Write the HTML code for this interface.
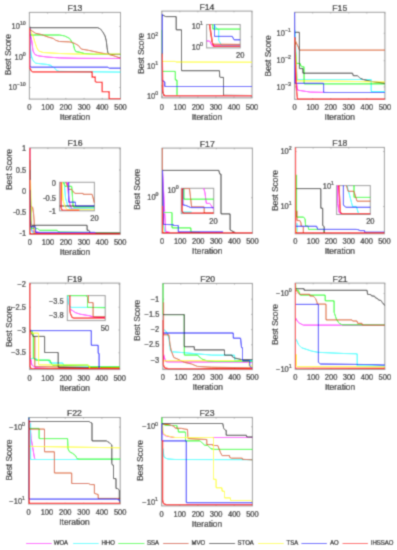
<!DOCTYPE html>
<html><head><meta charset="utf-8"><title>Convergence curves F13-F23</title>
<style>
html,body{margin:0;padding:0;background:#fff;width:397px;height:550px;overflow:hidden;}
body{font-family:"Liberation Sans", sans-serif;}
svg{display:block;}
</style></head><body>
<svg xmlns="http://www.w3.org/2000/svg" width="397" height="550" viewBox="0 0 397 550" font-family='"Liberation Sans", sans-serif' shape-rendering="geometricPrecision"><defs><filter id="bl" x="0" y="0" width="397" height="550" filterUnits="userSpaceOnUse" primitiveUnits="userSpaceOnUse"><feConvolveMatrix order="3" kernelMatrix="0.0361 0.1178 0.0361 0.1178 0.3846 0.1178 0.0361 0.1178 0.0361" edgeMode="duplicate"/></filter><clipPath id="c1"><rect x="28.8" y="11.8" width="92.3" height="87.9"/></clipPath><clipPath id="c2"><rect x="161.2" y="10.5" width="91.4" height="88"/></clipPath><clipPath id="c3"><rect x="206" y="23.9" width="34.8" height="24.6"/></clipPath><clipPath id="c4"><rect x="294" y="11.7" width="91.5" height="88.3"/></clipPath><clipPath id="c5"><rect x="29.2" y="147.3" width="91.6" height="87.6"/></clipPath><clipPath id="c6"><rect x="59" y="181.7" width="36" height="29.7"/></clipPath><clipPath id="c7"><rect x="161.5" y="147.5" width="91.5" height="86.4"/></clipPath><clipPath id="c8"><rect x="180.7" y="187.7" width="33.6" height="26.5"/></clipPath><clipPath id="c9"><rect x="294.7" y="146.8" width="90.3" height="87.6"/></clipPath><clipPath id="c10"><rect x="336" y="185" width="34.9" height="30.1"/></clipPath><clipPath id="c11"><rect x="29" y="282.5" width="91.3" height="87.7"/></clipPath><clipPath id="c12"><rect x="66.7" y="295" width="39.1" height="26.2"/></clipPath><clipPath id="c13"><rect x="162.3" y="282.8" width="90.7" height="87.4"/></clipPath><clipPath id="c14"><rect x="294.7" y="282.5" width="90.7" height="87.6"/></clipPath><clipPath id="c15"><rect x="28" y="416.9" width="92.8" height="87.7"/></clipPath><clipPath id="c16"><rect x="161" y="416.8" width="92" height="89.7"/></clipPath></defs><g filter="url(#bl)"><rect width="397" height="550" fill="#fff"/><path d="M29.4 99.1L29.4 97.9 M29.4 12.4L29.4 13.6 M47.62 99.1L47.62 97.9 M47.62 12.4L47.62 13.6 M65.84 99.1L65.84 97.9 M65.84 12.4L65.84 13.6 M84.06 99.1L84.06 97.9 M84.06 12.4L84.06 13.6 M102.28 99.1L102.28 97.9 M102.28 12.4L102.28 13.6 M120.5 99.1L120.5 97.9 M120.5 12.4L120.5 13.6 M29.4 26.4L30.6 26.4 M120.5 26.4L119.3 26.4 M29.4 57.5L30.6 57.5 M120.5 57.5L119.3 57.5 M29.4 87.5L30.6 87.5 M120.5 87.5L119.3 87.5" stroke="#959595" stroke-width="0.8" fill="none"/>
<rect x="29.4" y="12.4" width="91.1" height="86.7" stroke="#959595" stroke-width="1" fill="none"/>
<g clip-path="url(#c1)">
<polyline points="29.9,32 31.8,40.9 33,51 34.9,54.5 38.1,55.8 46.9,57 59.5,57.9 78,58.3 120.5,58.5" stroke="#ff00ff" stroke-width="1" fill="none"/>
<polyline points="29.5,40 31.1,55 33,60.7 35.6,63.2 40.6,63.8 46.9,64.4 50.7,65.3 52.6,66.6 54.4,68.2 57,70.7 59.5,71.4 92,71.8 120.5,72.1" stroke="#00ffff" stroke-width="1" fill="none"/>
<polyline points="29.9,34.6 30.5,35 59.5,35 64.5,35.9 69.6,38.4 72.1,42.2 73.3,44 74.5,49.1 75.8,51.6 79.6,52.2 84.6,53.5 90.9,54.1 95,54.4 120.5,54.4" stroke="#00ff00" stroke-width="1" fill="none"/>
<polyline points="29.5,28.3 31.8,30.8 35.6,33.3 40.6,34.3 43.1,35.2 48.2,37.1 53.2,38.4 55.7,40.3 59.5,41.5 69.6,41.9 73.3,42.8 75.8,44 78.9,45.9 80.2,47.8 81.4,49.1 88.4,50.3 97.2,52.2 107.3,54.1 113.6,55.8 120.5,58" stroke="#d95319" stroke-width="1" fill="none"/>
<polyline points="29.5,27.7 97.8,27.7 100.3,28.9 102.9,32.1 105,35.9 106.3,40.9 107,47.2 107.9,52.9 109.2,54.1 111,54.4 120.5,54.4" stroke="#262626" stroke-width="1" fill="none"/>
<polyline points="29.9,29.6 33,35.9 34.9,42.2 36.8,47.8 38.7,51 43.1,52.5 59.5,53.5 78,54.1 120.5,54.1" stroke="#ffff00" stroke-width="1" fill="none"/>
<polyline points="29.9,28 29.9,66.3 31.1,67.2 107.9,67.2 109.2,68.2 120.5,68.2" stroke="#0000ff" stroke-width="1" fill="none"/>
<polyline points="29.5,28 29.5,67.6 31.8,71.5 33,71.8 92.2,71.8 92.2,77 95.3,77 95.3,81.4 96.6,82.4 102.2,82.4 102.2,91.5 109.2,91.5 109.2,98.6 120.5,98.6" stroke="#ff0000" stroke-width="1.25" fill="none"/>
</g>
<text transform="translate(29.4 109.6) scale(1 1.12)" font-size="7.5" text-anchor="middle" fill="#151515" stroke="#151515" stroke-width="0.2">0</text>
<text transform="translate(47.62 109.6) scale(1 1.12)" font-size="7.5" text-anchor="middle" fill="#151515" stroke="#151515" stroke-width="0.2">100</text>
<text transform="translate(65.84 109.6) scale(1 1.12)" font-size="7.5" text-anchor="middle" fill="#151515" stroke="#151515" stroke-width="0.2">200</text>
<text transform="translate(84.06 109.6) scale(1 1.12)" font-size="7.5" text-anchor="middle" fill="#151515" stroke="#151515" stroke-width="0.2">300</text>
<text transform="translate(102.28 109.6) scale(1 1.12)" font-size="7.5" text-anchor="middle" fill="#151515" stroke="#151515" stroke-width="0.2">400</text>
<text transform="translate(120.5 109.6) scale(1 1.12)" font-size="7.5" text-anchor="middle" fill="#151515" stroke="#151515" stroke-width="0.2">500</text>
<text transform="translate(74.95 119.6) scale(1 1.1)" font-size="8.4" text-anchor="middle" fill="#151515" stroke="#151515" stroke-width="0.2">Iteration</text>
<text transform="translate(74.95 10.8) scale(1 1.1)" font-size="8.7" text-anchor="middle" fill="#000" stroke="#000" stroke-width="0.2">F13</text>
<text transform="translate(25.8 29) scale(1 1.12)" font-size="7.5" text-anchor="end" fill="#151515" stroke="#151515" stroke-width="0.2">10<tspan dy="-3.4" font-size="5.3">10</tspan></text>
<text transform="translate(25.8 60.1) scale(1 1.12)" font-size="7.5" text-anchor="end" fill="#151515" stroke="#151515" stroke-width="0.2">10<tspan dy="-3.4" font-size="5.3">0</tspan></text>
<text transform="translate(25.8 90.1) scale(1 1.12)" font-size="7.5" text-anchor="end" fill="#151515" stroke="#151515" stroke-width="0.2">10<tspan dy="-3.4" font-size="5.3">−10</tspan></text>
<text transform="translate(10.7 54.7) rotate(-90) scale(1 1.1)" font-size="8.4" text-anchor="middle" fill="#151515" stroke="#151515" stroke-width="0.2">Best Score</text>
<path d="M161.8 97.9L161.8 96.7 M161.8 11.1L161.8 12.3 M179.84 97.9L179.84 96.7 M179.84 11.1L179.84 12.3 M197.88 97.9L197.88 96.7 M197.88 11.1L197.88 12.3 M215.92 97.9L215.92 96.7 M215.92 11.1L215.92 12.3 M233.96 97.9L233.96 96.7 M233.96 11.1L233.96 12.3 M252 97.9L252 96.7 M252 11.1L252 12.3 M161.8 36.8L163 36.8 M252 36.8L250.8 36.8 M161.8 66.5L163 66.5 M252 66.5L250.8 66.5 M161.8 96.7L163 96.7 M252 96.7L250.8 96.7" stroke="#959595" stroke-width="0.8" fill="none"/>
<rect x="161.8" y="11.1" width="90.2" height="86.8" stroke="#959595" stroke-width="1" fill="none"/>
<g clip-path="url(#c2)">
<polyline points="162,90 164,95.6 252,95.6" stroke="#ff00ff" stroke-width="1" fill="none"/>
<polyline points="162,90 164,95.6 252,95.6" stroke="#00ffff" stroke-width="1" fill="none"/>
<polyline points="162,30 162.5,71.4 175.3,71.4 175.3,80 177,80 177,95.5 252,95.5" stroke="#00ff00" stroke-width="1" fill="none"/>
<polyline points="162,85 163,93 165,95.6 252,95.6" stroke="#d95319" stroke-width="1" fill="none"/>
<polyline points="162.5,14.8 165.7,16.6 176.2,16.6 176.2,29.8 181.5,29.8 181.5,70.7 219.5,70.7 219.7,77 220.5,77.4 223.5,77.4 223.5,95.3 252,95.5" stroke="#262626" stroke-width="1" fill="none"/>
<polyline points="162,61.4 175.3,61.4 175.8,62 252,62.2" stroke="#ffff00" stroke-width="1" fill="none"/>
<polyline points="162.3,13.9 162.3,80.9 164,81 164.8,82 164.8,86.5 252,86.5" stroke="#0000ff" stroke-width="1" fill="none"/>
<polyline points="162.3,53.6 162.8,92 164,95.5 252,95.5" stroke="#ff0000" stroke-width="1.25" fill="none"/>
</g>
<text transform="translate(161.8 109.9) scale(1 1.12)" font-size="7.5" text-anchor="middle" fill="#151515" stroke="#151515" stroke-width="0.2">0</text>
<text transform="translate(179.84 109.9) scale(1 1.12)" font-size="7.5" text-anchor="middle" fill="#151515" stroke="#151515" stroke-width="0.2">100</text>
<text transform="translate(197.88 109.9) scale(1 1.12)" font-size="7.5" text-anchor="middle" fill="#151515" stroke="#151515" stroke-width="0.2">200</text>
<text transform="translate(215.92 109.9) scale(1 1.12)" font-size="7.5" text-anchor="middle" fill="#151515" stroke="#151515" stroke-width="0.2">300</text>
<text transform="translate(233.96 109.9) scale(1 1.12)" font-size="7.5" text-anchor="middle" fill="#151515" stroke="#151515" stroke-width="0.2">400</text>
<text transform="translate(252 109.9) scale(1 1.12)" font-size="7.5" text-anchor="middle" fill="#151515" stroke="#151515" stroke-width="0.2">500</text>
<text transform="translate(206.9 119.9) scale(1 1.1)" font-size="8.4" text-anchor="middle" fill="#151515" stroke="#151515" stroke-width="0.2">Iteration</text>
<text transform="translate(206.9 9.5) scale(1 1.1)" font-size="8.7" text-anchor="middle" fill="#000" stroke="#000" stroke-width="0.2">F14</text>
<text transform="translate(158.2 39.4) scale(1 1.12)" font-size="7.5" text-anchor="end" fill="#151515" stroke="#151515" stroke-width="0.2">10<tspan dy="-3.4" font-size="5.3">2</tspan></text>
<text transform="translate(158.2 69.1) scale(1 1.12)" font-size="7.5" text-anchor="end" fill="#151515" stroke="#151515" stroke-width="0.2">10<tspan dy="-3.4" font-size="5.3">1</tspan></text>
<text transform="translate(158.2 99.3) scale(1 1.12)" font-size="7.5" text-anchor="end" fill="#151515" stroke="#151515" stroke-width="0.2">10<tspan dy="-3.4" font-size="5.3">0</tspan></text>
<text transform="translate(143.8 53.6) rotate(-90) scale(1 1.1)" font-size="8.4" text-anchor="middle" fill="#151515" stroke="#151515" stroke-width="0.2">Best Score</text>
<rect x="206.6" y="24.5" width="33.6" height="23.4" fill="#fff" stroke="#959595" stroke-width="1"/>
<g clip-path="url(#c3)">
<polyline points="206.6,41 209.6,41 211.9,45.5 213,46 240.2,46" stroke="#ff00ff" stroke-width="1" fill="none"/>
<polyline points="213.6,24 216.4,28 218.7,30 218.7,40.4 221,44.4 222.7,46.1 240.2,46.1" stroke="#00ffff" stroke-width="1" fill="none"/>
<polyline points="212.8,24 212.8,29.1 240.2,29.1" stroke="#00ff00" stroke-width="1" fill="none"/>
<polyline points="209.2,24 210.5,33 212,42 213.6,44.2 240.2,44.4" stroke="#d95319" stroke-width="1" fill="none"/>
<polyline points="214.5,24 214.5,36.4 232.3,36.4 234,39.8 240.2,39.8" stroke="#0000ff" stroke-width="1" fill="none"/>
<polyline points="209.6,24 212.5,43.2 213.6,46.1 215,46.3 240.2,46.3" stroke="#ff0000" stroke-width="1.25" fill="none"/>
</g>
<text transform="translate(203 28.6) scale(1 1.12)" font-size="7.5" text-anchor="end" fill="#151515" stroke="#151515" stroke-width="0.2">10<tspan dy="-3.4" font-size="5.3">1</tspan></text>
<text transform="translate(203 50.1) scale(1 1.12)" font-size="7.5" text-anchor="end" fill="#151515" stroke="#151515" stroke-width="0.2">10<tspan dy="-3.4" font-size="5.3">0</tspan></text>
<text transform="translate(240.2 58.1) scale(1 1.12)" font-size="7.5" text-anchor="middle" fill="#151515" stroke="#151515" stroke-width="0.2">20</text>
<path d="M294.6 99.4L294.6 98.2 M294.6 12.3L294.6 13.5 M312.66 99.4L312.66 98.2 M312.66 12.3L312.66 13.5 M330.72 99.4L330.72 98.2 M330.72 12.3L330.72 13.5 M348.78 99.4L348.78 98.2 M348.78 12.3L348.78 13.5 M366.84 99.4L366.84 98.2 M366.84 12.3L366.84 13.5 M384.9 99.4L384.9 98.2 M384.9 12.3L384.9 13.5 M294.6 33.3L295.8 33.3 M384.9 33.3L383.7 33.3 M294.6 60.7L295.8 60.7 M384.9 60.7L383.7 60.7 M294.6 86.9L295.8 86.9 M384.9 86.9L383.7 86.9" stroke="#959595" stroke-width="0.8" fill="none"/>
<rect x="294.6" y="12.3" width="90.3" height="87.1" stroke="#959595" stroke-width="1" fill="none"/>
<g clip-path="url(#c4)">
<polyline points="295,50 296,80 297.8,90.2 310.4,92.1 330,92.5 384.9,92.5" stroke="#ff00ff" stroke-width="1" fill="none"/>
<polyline points="294.8,30 295.3,36.2 297,79.5 371.2,79.5 371.2,91.5 384.9,91.5" stroke="#00ffff" stroke-width="1" fill="none"/>
<polyline points="295,45 296.4,63.4 300.2,63.4 301.3,66.7 304,66.7 304.1,83.9 384.9,83.9" stroke="#00ff00" stroke-width="1" fill="none"/>
<polyline points="295,37 295.3,40.5 298.5,47.6 299.4,50.1 384.9,50.1" stroke="#d95319" stroke-width="1" fill="none"/>
<polyline points="295.3,32.3 299.4,32.3 299.4,68.6 302.9,68.6 302.9,73.2 352.6,73.2 353.2,75.7 357.6,75.7 360.2,78.3 363.3,79.5 371.5,81.4 384.9,83.3" stroke="#262626" stroke-width="1" fill="none"/>
<polyline points="295,40 297,80.8 340,81.2 384.9,82" stroke="#ffff00" stroke-width="1" fill="none"/>
<polyline points="294.6,12.3 294.8,83.3 323.6,83.3 323.6,92.5 384.9,92.5" stroke="#0000ff" stroke-width="1" fill="none"/>
<polyline points="294.6,37.2 296.5,90 297.5,99.1 384.9,99.1" stroke="#ff0000" stroke-width="1.25" fill="none"/>
</g>
<text transform="translate(294.6 109.9) scale(1 1.12)" font-size="7.5" text-anchor="middle" fill="#151515" stroke="#151515" stroke-width="0.2">0</text>
<text transform="translate(312.66 109.9) scale(1 1.12)" font-size="7.5" text-anchor="middle" fill="#151515" stroke="#151515" stroke-width="0.2">100</text>
<text transform="translate(330.72 109.9) scale(1 1.12)" font-size="7.5" text-anchor="middle" fill="#151515" stroke="#151515" stroke-width="0.2">200</text>
<text transform="translate(348.78 109.9) scale(1 1.12)" font-size="7.5" text-anchor="middle" fill="#151515" stroke="#151515" stroke-width="0.2">300</text>
<text transform="translate(366.84 109.9) scale(1 1.12)" font-size="7.5" text-anchor="middle" fill="#151515" stroke="#151515" stroke-width="0.2">400</text>
<text transform="translate(384.9 109.9) scale(1 1.12)" font-size="7.5" text-anchor="middle" fill="#151515" stroke="#151515" stroke-width="0.2">500</text>
<text transform="translate(339.75 119.9) scale(1 1.1)" font-size="8.4" text-anchor="middle" fill="#151515" stroke="#151515" stroke-width="0.2">Iteration</text>
<text transform="translate(339.75 10.7) scale(1 1.1)" font-size="8.7" text-anchor="middle" fill="#000" stroke="#000" stroke-width="0.2">F15</text>
<text transform="translate(291 35.9) scale(1 1.12)" font-size="7.5" text-anchor="end" fill="#151515" stroke="#151515" stroke-width="0.2">10<tspan dy="-3.4" font-size="5.3">−1</tspan></text>
<text transform="translate(291 63.3) scale(1 1.12)" font-size="7.5" text-anchor="end" fill="#151515" stroke="#151515" stroke-width="0.2">10<tspan dy="-3.4" font-size="5.3">−2</tspan></text>
<text transform="translate(291 89.5) scale(1 1.12)" font-size="7.5" text-anchor="end" fill="#151515" stroke="#151515" stroke-width="0.2">10<tspan dy="-3.4" font-size="5.3">−3</tspan></text>
<text transform="translate(271 55.9) rotate(-90) scale(1 1.1)" font-size="8.4" text-anchor="middle" fill="#151515" stroke="#151515" stroke-width="0.2">Best Score</text>
<path d="M29.8 234.3L29.8 233.1 M29.8 147.9L29.8 149.1 M47.88 234.3L47.88 233.1 M47.88 147.9L47.88 149.1 M65.96 234.3L65.96 233.1 M65.96 147.9L65.96 149.1 M84.04 234.3L84.04 233.1 M84.04 147.9L84.04 149.1 M102.12 234.3L102.12 233.1 M102.12 147.9L102.12 149.1 M120.2 234.3L120.2 233.1 M120.2 147.9L120.2 149.1 M29.8 148.8L31 148.8 M120.2 148.8L119 148.8 M29.8 170L31 170 M120.2 170L119 170 M29.8 191.25L31 191.25 M120.2 191.25L119 191.25 M29.8 212.5L31 212.5 M120.2 212.5L119 212.5 M29.8 233.7L31 233.7 M120.2 233.7L119 233.7" stroke="#959595" stroke-width="0.8" fill="none"/>
<rect x="29.8" y="147.9" width="90.4" height="86.4" stroke="#959595" stroke-width="1" fill="none"/>
<g clip-path="url(#c5)">
<polyline points="29.9,147.9 30.2,225 32,231 40,232.6 120.2,232.8" stroke="#ff00ff" stroke-width="1" fill="none"/>
<polyline points="30.2,160 30.8,229 33,233 120.2,233.3" stroke="#00ffff" stroke-width="1" fill="none"/>
<polyline points="30.5,200 31.5,228.6 37.6,228.6 39.6,230.3 57.2,230.3 58.2,231.6 60.2,232.1 120.2,232.8" stroke="#00ff00" stroke-width="1" fill="none"/>
<polyline points="30.2,160 30.6,205.7 32.7,207.3 33.6,213.9 34.2,222 34.2,233.1 40,233.3 120.2,233.3" stroke="#d95319" stroke-width="1" fill="none"/>
<polyline points="30,170 31,225.3 87.1,225.3 87.1,230.3 88.8,230.3 90.6,232.9 120.2,233.3" stroke="#262626" stroke-width="1" fill="none"/>
<polyline points="30.5,180 31.5,226 35,228 35,233 120.2,233.3" stroke="#ffff00" stroke-width="1" fill="none"/>
<polyline points="30,190 30.6,220 31,226.9 35.6,226.9 35.6,232.4 95,232.4 96,233.3 120.2,233.3" stroke="#0000ff" stroke-width="1" fill="none"/>
<polyline points="29.8,147.9 29.8,233.9 120.2,233.9" stroke="#ff0000" stroke-width="1.25" fill="none"/>
</g>
<text transform="translate(29.8 244.8) scale(1 1.12)" font-size="7.5" text-anchor="middle" fill="#151515" stroke="#151515" stroke-width="0.2">0</text>
<text transform="translate(47.88 244.8) scale(1 1.12)" font-size="7.5" text-anchor="middle" fill="#151515" stroke="#151515" stroke-width="0.2">100</text>
<text transform="translate(65.96 244.8) scale(1 1.12)" font-size="7.5" text-anchor="middle" fill="#151515" stroke="#151515" stroke-width="0.2">200</text>
<text transform="translate(84.04 244.8) scale(1 1.12)" font-size="7.5" text-anchor="middle" fill="#151515" stroke="#151515" stroke-width="0.2">300</text>
<text transform="translate(102.12 244.8) scale(1 1.12)" font-size="7.5" text-anchor="middle" fill="#151515" stroke="#151515" stroke-width="0.2">400</text>
<text transform="translate(120.2 244.8) scale(1 1.12)" font-size="7.5" text-anchor="middle" fill="#151515" stroke="#151515" stroke-width="0.2">500</text>
<text transform="translate(75 254.8) scale(1 1.1)" font-size="8.4" text-anchor="middle" fill="#151515" stroke="#151515" stroke-width="0.2">Iteration</text>
<text transform="translate(75 146.3) scale(1 1.1)" font-size="8.7" text-anchor="middle" fill="#000" stroke="#000" stroke-width="0.2">F16</text>
<text transform="translate(26.2 151.4) scale(1 1.12)" font-size="7.5" text-anchor="end" fill="#151515" stroke="#151515" stroke-width="0.2">1</text>
<text transform="translate(26.2 172.6) scale(1 1.12)" font-size="7.5" text-anchor="end" fill="#151515" stroke="#151515" stroke-width="0.2">0.5</text>
<text transform="translate(26.2 193.85) scale(1 1.12)" font-size="7.5" text-anchor="end" fill="#151515" stroke="#151515" stroke-width="0.2">0</text>
<text transform="translate(26.2 215.1) scale(1 1.12)" font-size="7.5" text-anchor="end" fill="#151515" stroke="#151515" stroke-width="0.2">-0.5</text>
<text transform="translate(26.2 236.3) scale(1 1.12)" font-size="7.5" text-anchor="end" fill="#151515" stroke="#151515" stroke-width="0.2">-1</text>
<text transform="translate(11.6 169.5) rotate(-90) scale(1 1.1)" font-size="8.4" text-anchor="middle" fill="#151515" stroke="#151515" stroke-width="0.2">Best Score</text>
<rect x="59.6" y="182.3" width="34.8" height="28.5" fill="#fff" stroke="#959595" stroke-width="1"/>
<g clip-path="url(#c6)">
<polyline points="67.2,182 68.5,195 70,205 71.7,209 94.4,209.3" stroke="#ff00ff" stroke-width="1" fill="none"/>
<polyline points="64.2,182 65.5,198 67.5,205 70.2,209 94.4,209" stroke="#00ffff" stroke-width="1" fill="none"/>
<polyline points="63.4,182 65,186.3 71.7,186.3 73.2,207 94.4,207" stroke="#00ff00" stroke-width="1" fill="none"/>
<polyline points="65.7,182 68.7,189.4 71.7,189.4 74.8,193.4 83.1,193.4 83.1,194.3 92.1,194.3 94.4,203" stroke="#d95319" stroke-width="1" fill="none"/>
<polyline points="59.6,206 94.4,206" stroke="#262626" stroke-width="1" fill="none"/>
<polyline points="61.9,182 63,200 65,207 67.2,209.5 94.4,209.5" stroke="#ffff00" stroke-width="1" fill="none"/>
<polyline points="68.7,182 68.7,202.2 75.5,202.2 75.5,206 94.4,206" stroke="#0000ff" stroke-width="1" fill="none"/>
<polyline points="61.2,182 61.2,208 62,210 79.3,210.3" stroke="#ff0000" stroke-width="1.25" fill="none"/>
</g>
<text transform="translate(56 185.9) scale(1 1.12)" font-size="7.5" text-anchor="end" fill="#151515" stroke="#151515" stroke-width="0.2">0</text>
<text transform="translate(56 200.6) scale(1 1.12)" font-size="7.5" text-anchor="end" fill="#151515" stroke="#151515" stroke-width="0.2">-0.5</text>
<text transform="translate(56 213.6) scale(1 1.12)" font-size="7.5" text-anchor="end" fill="#151515" stroke="#151515" stroke-width="0.2">-1</text>
<text transform="translate(94.4 221.4) scale(1 1.12)" font-size="7.5" text-anchor="middle" fill="#151515" stroke="#151515" stroke-width="0.2">20</text>
<path d="M162.1 233.3L162.1 232.1 M162.1 148.1L162.1 149.3 M180.16 233.3L180.16 232.1 M180.16 148.1L180.16 149.3 M198.22 233.3L198.22 232.1 M198.22 148.1L198.22 149.3 M216.28 233.3L216.28 232.1 M216.28 148.1L216.28 149.3 M234.34 233.3L234.34 232.1 M234.34 148.1L234.34 149.3 M252.4 233.3L252.4 232.1 M252.4 148.1L252.4 149.3 M162.1 197.7L163.3 197.7 M252.4 197.7L251.2 197.7" stroke="#959595" stroke-width="0.8" fill="none"/>
<rect x="162.1" y="148.1" width="90.3" height="85.2" stroke="#959595" stroke-width="1" fill="none"/>
<g clip-path="url(#c7)">
<polyline points="162.5,170 165.7,231.4 170,232.4" stroke="#ff00ff" stroke-width="1" fill="none"/>
<polyline points="162.5,200 163.5,225 165,232.4" stroke="#00ffff" stroke-width="1" fill="none"/>
<polyline points="163.6,212.5 172,212.5 172,227.9 190.9,227.9 190.9,232.1 200,232.4" stroke="#00ff00" stroke-width="1" fill="none"/>
<polyline points="162.3,148.1 162.3,232.8" stroke="#d95319" stroke-width="1" fill="none"/>
<polyline points="162.3,170.4 218.9,170.4 219.6,174 221,174 221,213.9 230.1,213.9 230.1,230 234.3,232 235.7,232.8" stroke="#262626" stroke-width="1" fill="none"/>
<polyline points="162.9,213 162.9,232" stroke="#ffff00" stroke-width="1" fill="none"/>
<polyline points="162.5,170.2 163.3,224.4 173.4,224.7 173.4,225.5 178.3,225.5 178.3,231.9 223.1,231.9" stroke="#0000ff" stroke-width="1" fill="none"/>
<polyline points="162.5,206 162.5,232.8 252.4,232.8" stroke="#ff0000" stroke-width="1.25" fill="none"/>
</g>
<text transform="translate(162.1 243.8) scale(1 1.12)" font-size="7.5" text-anchor="middle" fill="#151515" stroke="#151515" stroke-width="0.2">0</text>
<text transform="translate(180.16 243.8) scale(1 1.12)" font-size="7.5" text-anchor="middle" fill="#151515" stroke="#151515" stroke-width="0.2">100</text>
<text transform="translate(198.22 243.8) scale(1 1.12)" font-size="7.5" text-anchor="middle" fill="#151515" stroke="#151515" stroke-width="0.2">200</text>
<text transform="translate(216.28 243.8) scale(1 1.12)" font-size="7.5" text-anchor="middle" fill="#151515" stroke="#151515" stroke-width="0.2">300</text>
<text transform="translate(234.34 243.8) scale(1 1.12)" font-size="7.5" text-anchor="middle" fill="#151515" stroke="#151515" stroke-width="0.2">400</text>
<text transform="translate(252.4 243.8) scale(1 1.12)" font-size="7.5" text-anchor="middle" fill="#151515" stroke="#151515" stroke-width="0.2">500</text>
<text transform="translate(207.25 253.8) scale(1 1.1)" font-size="8.4" text-anchor="middle" fill="#151515" stroke="#151515" stroke-width="0.2">Iteration</text>
<text transform="translate(207.25 146.5) scale(1 1.1)" font-size="8.7" text-anchor="middle" fill="#000" stroke="#000" stroke-width="0.2">F17</text>
<text transform="translate(158.5 200.3) scale(1 1.12)" font-size="7.5" text-anchor="end" fill="#151515" stroke="#151515" stroke-width="0.2">10<tspan dy="-3.4" font-size="5.3">0</tspan></text>
<text transform="translate(139.6 189.3) rotate(-90) scale(1 1.1)" font-size="8.4" text-anchor="middle" fill="#151515" stroke="#151515" stroke-width="0.2">Best Score</text>
<rect x="181.3" y="188.3" width="32.4" height="25.3" fill="#fff" stroke="#959595" stroke-width="1"/>
<g clip-path="url(#c8)">
<polyline points="203.5,188 204.9,192.2 206.3,203.4 209.8,203.4 212.6,207.6 213.7,209.5" stroke="#ff00ff" stroke-width="1" fill="none"/>
<polyline points="181.5,212.1 191.6,212.1" stroke="#00ffff" stroke-width="1" fill="none"/>
<polyline points="183.9,188 183.9,199.2 213.7,199.2" stroke="#00ff00" stroke-width="1" fill="none"/>
<polyline points="182,188.6 189.5,188.6 191.6,206.9 204.2,206.9 204.2,213 213.7,213" stroke="#d95319" stroke-width="1" fill="none"/>
<polyline points="182.9,188 182.9,204.8 186,205.5 190.9,207.6 213.7,207.6" stroke="#0000ff" stroke-width="1" fill="none"/>
<polyline points="182.1,188 182.1,211.1 183.5,213.2 213.7,213.2" stroke="#ff0000" stroke-width="1.25" fill="none"/>
</g>
<text transform="translate(178.7 192.6) scale(1 1.12)" font-size="7.5" text-anchor="end" fill="#151515" stroke="#151515" stroke-width="0.2">10<tspan dy="-3.4" font-size="5.3">0</tspan></text>
<text transform="translate(213.5 223.5) scale(1 1.12)" font-size="7.5" text-anchor="middle" fill="#151515" stroke="#151515" stroke-width="0.2">20</text>
<path d="M295.3 233.8L295.3 232.6 M295.3 147.4L295.3 148.6 M313.12 233.8L313.12 232.6 M313.12 147.4L313.12 148.6 M330.94 233.8L330.94 232.6 M330.94 147.4L330.94 148.6 M348.76 233.8L348.76 232.6 M348.76 147.4L348.76 148.6 M366.58 233.8L366.58 232.6 M366.58 147.4L366.58 148.6 M384.4 233.8L384.4 232.6 M384.4 147.4L384.4 148.6 M295.3 151.5L296.5 151.5 M384.4 151.5L383.2 151.5 M295.3 206.5L296.5 206.5 M384.4 206.5L383.2 206.5" stroke="#959595" stroke-width="0.8" fill="none"/>
<rect x="295.3" y="147.4" width="89.1" height="86.4" stroke="#959595" stroke-width="1" fill="none"/>
<g clip-path="url(#c9)">
<polyline points="295.5,200 295.6,232.7" stroke="#ff00ff" stroke-width="1" fill="none"/>
<polyline points="297,223 297,233" stroke="#00ffff" stroke-width="1" fill="none"/>
<polyline points="296.6,174.8 296.6,217.1 303.6,217.1 305.1,219.1 305.6,226.1 308.1,226.1 308.6,229.4 324.2,229.4 324.2,233" stroke="#00ff00" stroke-width="1" fill="none"/>
<polyline points="297,210.8 297,220.6 300,220.6 301,223.1 301.2,226.1 303.3,226.6 303.3,233" stroke="#d95319" stroke-width="1" fill="none"/>
<polyline points="296.6,188.6 320.8,188.6 320.8,208.2 322.7,208.2 322.7,225.6 324.2,226.6 324.2,233" stroke="#262626" stroke-width="1" fill="none"/>
<polyline points="296,228 296.5,233" stroke="#ffff00" stroke-width="1" fill="none"/>
<polyline points="296,226.3 316.7,226.3 317.7,229.4 356,229.4 358,229.6 360,230.6 364.6,230.6 364.6,232.2 384.4,232.2" stroke="#0000ff" stroke-width="1" fill="none"/>
<polyline points="295.5,147.4 295.5,232.9 384.4,232.9" stroke="#ff0000" stroke-width="1.25" fill="none"/>
</g>
<text transform="translate(295.3 244.3) scale(1 1.12)" font-size="7.5" text-anchor="middle" fill="#151515" stroke="#151515" stroke-width="0.2">0</text>
<text transform="translate(313.12 244.3) scale(1 1.12)" font-size="7.5" text-anchor="middle" fill="#151515" stroke="#151515" stroke-width="0.2">100</text>
<text transform="translate(330.94 244.3) scale(1 1.12)" font-size="7.5" text-anchor="middle" fill="#151515" stroke="#151515" stroke-width="0.2">200</text>
<text transform="translate(348.76 244.3) scale(1 1.12)" font-size="7.5" text-anchor="middle" fill="#151515" stroke="#151515" stroke-width="0.2">300</text>
<text transform="translate(366.58 244.3) scale(1 1.12)" font-size="7.5" text-anchor="middle" fill="#151515" stroke="#151515" stroke-width="0.2">400</text>
<text transform="translate(384.4 244.3) scale(1 1.12)" font-size="7.5" text-anchor="middle" fill="#151515" stroke="#151515" stroke-width="0.2">500</text>
<text transform="translate(339.85 254.3) scale(1 1.1)" font-size="8.4" text-anchor="middle" fill="#151515" stroke="#151515" stroke-width="0.2">Iteration</text>
<text transform="translate(339.85 145.8) scale(1 1.1)" font-size="8.7" text-anchor="middle" fill="#000" stroke="#000" stroke-width="0.2">F18</text>
<text transform="translate(291.7 154.1) scale(1 1.12)" font-size="7.5" text-anchor="end" fill="#151515" stroke="#151515" stroke-width="0.2">10<tspan dy="-3.4" font-size="5.3">2</tspan></text>
<text transform="translate(291.7 209.1) scale(1 1.12)" font-size="7.5" text-anchor="end" fill="#151515" stroke="#151515" stroke-width="0.2">10<tspan dy="-3.4" font-size="5.3">1</tspan></text>
<text transform="translate(277.5 190.6) rotate(-90) scale(1 1.1)" font-size="8.4" text-anchor="middle" fill="#151515" stroke="#151515" stroke-width="0.2">Best Score</text>
<rect x="336.6" y="185.6" width="33.7" height="28.9" fill="#fff" stroke="#959595" stroke-width="1"/>
<g clip-path="url(#c10)">
<polyline points="337.8,185 337.8,203.4 339,212.5 341,213.5 370.3,213.5" stroke="#ff00ff" stroke-width="1" fill="none"/>
<polyline points="346.9,185 352.5,206.4 356.3,206.4 358.5,213.5 370.3,213.5" stroke="#00ffff" stroke-width="1" fill="none"/>
<polyline points="354,185 354,197.4 356.3,197.4 370.3,197.4" stroke="#00ff00" stroke-width="1" fill="none"/>
<polyline points="346.4,185 348,191.3 354,191.3 357,201.2 370.3,201.2" stroke="#d95319" stroke-width="1" fill="none"/>
<polyline points="343.4,185 343.4,205 345.7,207.3 370.3,207.3" stroke="#0000ff" stroke-width="1" fill="none"/>
<polyline points="338.9,185 340.4,212.5 342,213.5 370.3,213.5" stroke="#ff0000" stroke-width="1.25" fill="none"/>
</g>
<text transform="translate(334 188.8) scale(1 1.12)" font-size="7.5" text-anchor="end" fill="#151515" stroke="#151515" stroke-width="0.2">10<tspan dy="-3.4" font-size="5.3">1</tspan></text>
<text transform="translate(370.3 223.7) scale(1 1.12)" font-size="7.5" text-anchor="middle" fill="#151515" stroke="#151515" stroke-width="0.2">20</text>
<path d="M29.6 369.6L29.6 368.4 M29.6 283.1L29.6 284.3 M47.62 369.6L47.62 368.4 M47.62 283.1L47.62 284.3 M65.64 369.6L65.64 368.4 M65.64 283.1L65.64 284.3 M83.66 369.6L83.66 368.4 M83.66 283.1L83.66 284.3 M101.68 369.6L101.68 368.4 M101.68 283.1L101.68 284.3 M119.7 369.6L119.7 368.4 M119.7 283.1L119.7 284.3 M29.6 284.5L30.8 284.5 M119.7 284.5L118.5 284.5 M29.6 307.2L30.8 307.2 M119.7 307.2L118.5 307.2 M29.6 330L30.8 330 M119.7 330L118.5 330 M29.6 352.8L30.8 352.8 M119.7 352.8L118.5 352.8" stroke="#959595" stroke-width="0.8" fill="none"/>
<rect x="29.6" y="283.1" width="90.1" height="86.5" stroke="#959595" stroke-width="1" fill="none"/>
<g clip-path="url(#c11)">
<polyline points="30,355 32,365.3 35.8,367.9 50,368.5 119.7,368.6" stroke="#ff00ff" stroke-width="1" fill="none"/>
<polyline points="30,358.5 36.2,358.5 37,360.2 48.5,360.2 49.7,363 62.9,363 63.5,365.3 89.6,366.1 91,367.5 119.7,368" stroke="#00ffff" stroke-width="1" fill="none"/>
<polyline points="31.2,329.8 33.3,334 33.3,358.5 36.2,360.2 50.1,360.2 51.3,363.4 52.5,365.1 88,365.1 88.5,366.5 119.7,366.5" stroke="#00ff00" stroke-width="1" fill="none"/>
<polyline points="32.7,336.4 34.8,336.4 34.8,366.6 119.7,368" stroke="#d95319" stroke-width="1" fill="none"/>
<polyline points="30,330 32.7,335.7 33,336.4 44.6,336.4 44.6,352.5 58.2,352.5 58.2,367.2 119.7,367.8" stroke="#262626" stroke-width="1" fill="none"/>
<polyline points="31,332 31.7,333.2 38.6,333.2 38.6,364.7 89,365.2 89.5,368 119.7,368" stroke="#ffff00" stroke-width="1" fill="none"/>
<polyline points="30,330.6 91.3,330.6 91.3,345.3 98.2,345.3 98.2,353.4 99.1,353.4 99.1,368.5 119.7,368.5" stroke="#0000ff" stroke-width="1" fill="none"/>
<polyline points="29.8,283.1 29.9,366 31,368.5 119.7,368.7" stroke="#ff0000" stroke-width="1.25" fill="none"/>
</g>
<text transform="translate(29.6 380.8) scale(1 1.12)" font-size="7.5" text-anchor="middle" fill="#151515" stroke="#151515" stroke-width="0.2">0</text>
<text transform="translate(47.62 380.8) scale(1 1.12)" font-size="7.5" text-anchor="middle" fill="#151515" stroke="#151515" stroke-width="0.2">100</text>
<text transform="translate(65.64 380.8) scale(1 1.12)" font-size="7.5" text-anchor="middle" fill="#151515" stroke="#151515" stroke-width="0.2">200</text>
<text transform="translate(83.66 380.8) scale(1 1.12)" font-size="7.5" text-anchor="middle" fill="#151515" stroke="#151515" stroke-width="0.2">300</text>
<text transform="translate(101.68 380.8) scale(1 1.12)" font-size="7.5" text-anchor="middle" fill="#151515" stroke="#151515" stroke-width="0.2">400</text>
<text transform="translate(119.7 380.8) scale(1 1.12)" font-size="7.5" text-anchor="middle" fill="#151515" stroke="#151515" stroke-width="0.2">500</text>
<text transform="translate(74.65 390.8) scale(1 1.1)" font-size="8.4" text-anchor="middle" fill="#151515" stroke="#151515" stroke-width="0.2">Iteration</text>
<text transform="translate(74.65 281.5) scale(1 1.1)" font-size="8.7" text-anchor="middle" fill="#000" stroke="#000" stroke-width="0.2">F19</text>
<text transform="translate(26 287.1) scale(1 1.12)" font-size="7.5" text-anchor="end" fill="#151515" stroke="#151515" stroke-width="0.2">−2</text>
<text transform="translate(26 309.8) scale(1 1.12)" font-size="7.5" text-anchor="end" fill="#151515" stroke="#151515" stroke-width="0.2">−2.5</text>
<text transform="translate(26 332.6) scale(1 1.12)" font-size="7.5" text-anchor="end" fill="#151515" stroke="#151515" stroke-width="0.2">−3</text>
<text transform="translate(26 355.4) scale(1 1.12)" font-size="7.5" text-anchor="end" fill="#151515" stroke="#151515" stroke-width="0.2">−3.5</text>
<text transform="translate(11.9 326.5) rotate(-90) scale(1 1.1)" font-size="8.4" text-anchor="middle" fill="#151515" stroke="#151515" stroke-width="0.2">Best Score</text>
<rect x="67.3" y="295.6" width="37.9" height="25" fill="#fff" stroke="#959595" stroke-width="1"/>
<g clip-path="url(#c12)">
<polyline points="70.6,309.3 75.4,312.6 80.2,314.2 89.9,315.8 93.1,316.8 105.2,317.8" stroke="#ff00ff" stroke-width="1" fill="none"/>
<polyline points="67.7,295 68.5,303 69.8,306.5 71,307.4 105.2,307.4" stroke="#00ffff" stroke-width="1" fill="none"/>
<polyline points="67.3,295.6 86,295.6 87.5,297 87.5,307.4 105.2,307.7" stroke="#00ff00" stroke-width="1" fill="none"/>
<polyline points="88.3,295 88.3,302.6 93.1,302.6 93.1,316.6 105.2,316.6" stroke="#d95319" stroke-width="1" fill="none"/>
<polyline points="69.8,295 69.8,311 70.6,314 72.2,317.4 74,318.2 105.2,318.2" stroke="#ff0000" stroke-width="1.25" fill="none"/>
</g>
<text transform="translate(63.7 303.6) scale(1 1.12)" font-size="7.5" text-anchor="end" fill="#151515" stroke="#151515" stroke-width="0.2">−3.5</text>
<text transform="translate(63.7 318.4) scale(1 1.12)" font-size="7.5" text-anchor="end" fill="#151515" stroke="#151515" stroke-width="0.2">−3.8</text>
<text transform="translate(104.9 330.5) scale(1 1.12)" font-size="7.5" text-anchor="middle" fill="#151515" stroke="#151515" stroke-width="0.2">50</text>
<path d="M162.9 369.6L162.9 368.4 M162.9 283.4L162.9 284.6 M180.8 369.6L180.8 368.4 M180.8 283.4L180.8 284.6 M198.7 369.6L198.7 368.4 M198.7 283.4L198.7 284.6 M216.6 369.6L216.6 368.4 M216.6 283.4L216.6 284.6 M234.5 369.6L234.5 368.4 M234.5 283.4L234.5 284.6 M252.4 369.6L252.4 368.4 M252.4 283.4L252.4 284.6 M162.9 299.2L164.1 299.2 M252.4 299.2L251.2 299.2 M162.9 314.4L164.1 314.4 M252.4 314.4L251.2 314.4 M162.9 329.6L164.1 329.6 M252.4 329.6L251.2 329.6 M162.9 344.8L164.1 344.8 M252.4 344.8L251.2 344.8 M162.9 360L164.1 360 M252.4 360L251.2 360" stroke="#959595" stroke-width="0.8" fill="none"/>
<rect x="162.9" y="283.4" width="89.5" height="86.2" stroke="#959595" stroke-width="1" fill="none"/>
<g clip-path="url(#c13)">
<polyline points="163,350 163.6,354.3 165.7,361.6 168,361.9 252.4,362.2" stroke="#ff00ff" stroke-width="1" fill="none"/>
<polyline points="163.2,329.2 166.5,331.6 168.9,338.1 170.5,351 172.1,351.8 184.3,352.7 211.8,355.1 234.6,355.2 234.6,360.3 252.4,360.3" stroke="#00ffff" stroke-width="1" fill="none"/>
<polyline points="163,283.4 163,314.6 184.3,314.6 184.3,355.1 197.3,355.1 202.1,359.1 207,360.8 215,361.5 252.4,361.5" stroke="#00ff00" stroke-width="1" fill="none"/>
<polyline points="163.6,302.4 163.6,334.8 168.9,334.8 170,344.6 171.3,351 173.8,357.5 177.8,359.1 184.3,362.4 191.6,364 197.3,366.4 211.8,367.2 252.4,367.8" stroke="#d95319" stroke-width="1" fill="none"/>
<polyline points="163,314.6 184.3,314.6 184.3,346.7 194.3,346.7 194.3,349.9 224.5,349.9 224.5,355.2 232.1,355.2 232.1,356.5 234.6,358 238.4,358.8 241.5,359.6 252.4,359.6" stroke="#262626" stroke-width="1" fill="none"/>
<polyline points="163,360.8 249.1,360.8 249.1,365.9 252.4,365.9" stroke="#ffff00" stroke-width="1" fill="none"/>
<polyline points="163,333 233.3,333 233.3,338.2 240.6,338.2 241.5,347.7 242.5,347.7 242.5,360.9 249.7,360.9 249.7,365.9 251.9,367.8" stroke="#0000ff" stroke-width="1" fill="none"/>
<polyline points="163,320 163.3,365 164.9,367.9 168,368.6 252.4,368.8" stroke="#ff0000" stroke-width="1.25" fill="none"/>
</g>
<text transform="translate(162.9 380.1) scale(1 1.12)" font-size="7.5" text-anchor="middle" fill="#151515" stroke="#151515" stroke-width="0.2">0</text>
<text transform="translate(180.8 380.1) scale(1 1.12)" font-size="7.5" text-anchor="middle" fill="#151515" stroke="#151515" stroke-width="0.2">100</text>
<text transform="translate(198.7 380.1) scale(1 1.12)" font-size="7.5" text-anchor="middle" fill="#151515" stroke="#151515" stroke-width="0.2">200</text>
<text transform="translate(216.6 380.1) scale(1 1.12)" font-size="7.5" text-anchor="middle" fill="#151515" stroke="#151515" stroke-width="0.2">300</text>
<text transform="translate(234.5 380.1) scale(1 1.12)" font-size="7.5" text-anchor="middle" fill="#151515" stroke="#151515" stroke-width="0.2">400</text>
<text transform="translate(252.4 380.1) scale(1 1.12)" font-size="7.5" text-anchor="middle" fill="#151515" stroke="#151515" stroke-width="0.2">500</text>
<text transform="translate(207.65 390.1) scale(1 1.1)" font-size="8.4" text-anchor="middle" fill="#151515" stroke="#151515" stroke-width="0.2">Iteration</text>
<text transform="translate(207.65 281.8) scale(1 1.1)" font-size="8.7" text-anchor="middle" fill="#000" stroke="#000" stroke-width="0.2">F20</text>
<text transform="translate(159.3 301.8) scale(1 1.12)" font-size="7.5" text-anchor="end" fill="#151515" stroke="#151515" stroke-width="0.2">−1</text>
<text transform="translate(159.3 317) scale(1 1.12)" font-size="7.5" text-anchor="end" fill="#151515" stroke="#151515" stroke-width="0.2">−1.5</text>
<text transform="translate(159.3 332.2) scale(1 1.12)" font-size="7.5" text-anchor="end" fill="#151515" stroke="#151515" stroke-width="0.2">−2</text>
<text transform="translate(159.3 347.4) scale(1 1.12)" font-size="7.5" text-anchor="end" fill="#151515" stroke="#151515" stroke-width="0.2">−2.5</text>
<text transform="translate(159.3 362.6) scale(1 1.12)" font-size="7.5" text-anchor="end" fill="#151515" stroke="#151515" stroke-width="0.2">−3</text>
<text transform="translate(140.4 320.4) rotate(-90) scale(1 1.1)" font-size="8.4" text-anchor="middle" fill="#151515" stroke="#151515" stroke-width="0.2">Best Score</text>
<path d="M295.3 369.5L295.3 368.3 M295.3 283.1L295.3 284.3 M313.2 369.5L313.2 368.3 M313.2 283.1L313.2 284.3 M331.1 369.5L331.1 368.3 M331.1 283.1L331.1 284.3 M349 369.5L349 368.3 M349 283.1L349 284.3 M366.9 369.5L366.9 368.3 M366.9 283.1L366.9 284.3 M384.8 369.5L384.8 368.3 M384.8 283.1L384.8 284.3 M295.3 293.5L296.5 293.5 M384.8 293.5L383.6 293.5 M295.3 368.9L296.5 368.9 M384.8 368.9L383.6 368.9" stroke="#959595" stroke-width="0.8" fill="none"/>
<rect x="295.3" y="283.1" width="89.5" height="86.4" stroke="#959595" stroke-width="1" fill="none"/>
<g clip-path="url(#c14)">
<polyline points="295.5,317.8 298.5,322.7 303.3,325.1 384.8,325.2" stroke="#ff00ff" stroke-width="1" fill="none"/>
<polyline points="296,338.9 298.5,344.6 301.7,347.8 306.6,349.4 311.4,351 317.9,352.3 343.8,353.5 356.8,353.8 357.2,353.8 357.2,366 384.8,366" stroke="#00ffff" stroke-width="1" fill="none"/>
<polyline points="295.5,283.1 296,290.3 298.5,290.3 300.1,295.1 325.2,295.1 325.2,300.8 334.1,300.8 334.1,312.2 336.5,319.4 339,323.2 342.2,324.8 384.8,325" stroke="#00ff00" stroke-width="1" fill="none"/>
<polyline points="296,290 299.3,294.3 309.8,294.3 309.8,296 313.1,296 315.5,298.4 317.1,302.4 317.1,304.1 326,304.1 326,319.9 352,319.9 352.6,321 357,321 357.6,323.3 362,323.3 362.5,325.2 384.8,325.2" stroke="#d95319" stroke-width="1" fill="none"/>
<polyline points="295.5,288.7 304.1,288.7 304.1,290.3 367.1,290.3 367.5,294.3 370.9,294.6 371.5,295.9 374.6,296.2 375.2,297.6 377.8,298.7 378.5,300 381,300.5 382.3,302.5 384.8,305.7" stroke="#262626" stroke-width="1" fill="none"/>
<polyline points="296.4,354.3 296.4,365.6 297,366.6 357,366.6 384.8,366.8" stroke="#ffff00" stroke-width="1" fill="none"/>
<polyline points="296,304.4 318.4,304.4 318.4,362.4 320.3,364 372,364.6 384.8,365.1" stroke="#0000ff" stroke-width="1" fill="none"/>
<polyline points="295.3,283.1 295.4,368 384.8,368.3" stroke="#ff0000" stroke-width="1.25" fill="none"/>
</g>
<text transform="translate(295.3 380) scale(1 1.12)" font-size="7.5" text-anchor="middle" fill="#151515" stroke="#151515" stroke-width="0.2">0</text>
<text transform="translate(313.2 380) scale(1 1.12)" font-size="7.5" text-anchor="middle" fill="#151515" stroke="#151515" stroke-width="0.2">100</text>
<text transform="translate(331.1 380) scale(1 1.12)" font-size="7.5" text-anchor="middle" fill="#151515" stroke="#151515" stroke-width="0.2">200</text>
<text transform="translate(349 380) scale(1 1.12)" font-size="7.5" text-anchor="middle" fill="#151515" stroke="#151515" stroke-width="0.2">300</text>
<text transform="translate(366.9 380) scale(1 1.12)" font-size="7.5" text-anchor="middle" fill="#151515" stroke="#151515" stroke-width="0.2">400</text>
<text transform="translate(384.8 380) scale(1 1.12)" font-size="7.5" text-anchor="middle" fill="#151515" stroke="#151515" stroke-width="0.2">500</text>
<text transform="translate(340.05 390) scale(1 1.1)" font-size="8.4" text-anchor="middle" fill="#151515" stroke="#151515" stroke-width="0.2">Iteration</text>
<text transform="translate(340.05 281.5) scale(1 1.1)" font-size="8.7" text-anchor="middle" fill="#000" stroke="#000" stroke-width="0.2">F21</text>
<text transform="translate(291.7 296.1) scale(1 1.12)" font-size="7.5" text-anchor="end" fill="#151515" stroke="#151515" stroke-width="0.2">−10<tspan dy="-3.4" font-size="5.3">0</tspan></text>
<text transform="translate(291.7 371.5) scale(1 1.12)" font-size="7.5" text-anchor="end" fill="#151515" stroke="#151515" stroke-width="0.2">−10<tspan dy="-3.4" font-size="5.3">1</tspan></text>
<text transform="translate(277.9 324.6) rotate(-90) scale(1 1.1)" font-size="8.4" text-anchor="middle" fill="#151515" stroke="#151515" stroke-width="0.2">Best Score</text>
<path d="M28.6 504L28.6 502.8 M28.6 417.5L28.6 418.7 M46.92 504L46.92 502.8 M46.92 417.5L46.92 418.7 M65.24 504L65.24 502.8 M65.24 417.5L65.24 418.7 M83.56 504L83.56 502.8 M83.56 417.5L83.56 418.7 M101.88 504L101.88 502.8 M101.88 417.5L101.88 418.7 M120.2 504L120.2 502.8 M120.2 417.5L120.2 418.7 M28.6 427.1L29.8 427.1 M120.2 427.1L119 427.1 M28.6 501.1L29.8 501.1 M120.2 501.1L119 501.1" stroke="#959595" stroke-width="0.8" fill="none"/>
<rect x="28.6" y="417.5" width="91.6" height="86.5" stroke="#959595" stroke-width="1" fill="none"/>
<g clip-path="url(#c15)">
<polyline points="29.5,420 31.2,438.6 34.5,458.2 35.5,459.5 36,459.5" stroke="#ff00ff" stroke-width="1" fill="none"/>
<polyline points="30.6,423 30.6,459.5 120.2,459.5" stroke="#00ffff" stroke-width="1" fill="none"/>
<polyline points="28.9,417.5 29,428.4 39.1,428.4 39.1,438.6 67.6,438.6 68,448.8 69.5,451.8 72.5,453.3 75.5,455.6 77,458.6 79,459.1 120.2,459.1" stroke="#00ff00" stroke-width="1" fill="none"/>
<polyline points="29,429.1 44.5,429.1 44.5,451.8 54.4,451.8 54.4,473 71.7,473 71.7,483.5 88.4,483.5 90.6,484.6 94.4,484.6 94.4,493.4 96.7,494.1 98.2,494.5 98.2,498.4 120.2,498.4" stroke="#d95319" stroke-width="1" fill="none"/>
<polyline points="29,421.5 89.2,421.5 90.5,422.5 92,423 92,440.9 106.8,440.9 107.6,441.7 109.3,442.6 111,444.3 111.8,445 111.8,463.5 112.6,465.2 113.5,465.2 113.5,478.6 116,478.6 116,488.6 117.6,488.6 119.3,490 119.3,500.3 119.7,502.6" stroke="#262626" stroke-width="1" fill="none"/>
<polyline points="29.5,445.5 30.5,446.4 120.2,447.8" stroke="#ffff00" stroke-width="1" fill="none"/>
<polyline points="28.9,417.5 29,499.1 116.7,499.1 120.2,500.6" stroke="#0000ff" stroke-width="1" fill="none"/>
<polyline points="29.1,420 29.2,503.3 120.2,503.3" stroke="#ff0000" stroke-width="1.25" fill="none"/>
</g>
<text transform="translate(28.6 514.5) scale(1 1.12)" font-size="7.5" text-anchor="middle" fill="#151515" stroke="#151515" stroke-width="0.2">0</text>
<text transform="translate(46.92 514.5) scale(1 1.12)" font-size="7.5" text-anchor="middle" fill="#151515" stroke="#151515" stroke-width="0.2">100</text>
<text transform="translate(65.24 514.5) scale(1 1.12)" font-size="7.5" text-anchor="middle" fill="#151515" stroke="#151515" stroke-width="0.2">200</text>
<text transform="translate(83.56 514.5) scale(1 1.12)" font-size="7.5" text-anchor="middle" fill="#151515" stroke="#151515" stroke-width="0.2">300</text>
<text transform="translate(101.88 514.5) scale(1 1.12)" font-size="7.5" text-anchor="middle" fill="#151515" stroke="#151515" stroke-width="0.2">400</text>
<text transform="translate(120.2 514.5) scale(1 1.12)" font-size="7.5" text-anchor="middle" fill="#151515" stroke="#151515" stroke-width="0.2">500</text>
<text transform="translate(74.4 524.5) scale(1 1.1)" font-size="8.4" text-anchor="middle" fill="#151515" stroke="#151515" stroke-width="0.2">Iteration</text>
<text transform="translate(74.4 415.9) scale(1 1.1)" font-size="8.7" text-anchor="middle" fill="#000" stroke="#000" stroke-width="0.2">F22</text>
<text transform="translate(25 429.7) scale(1 1.12)" font-size="7.5" text-anchor="end" fill="#151515" stroke="#151515" stroke-width="0.2">−10<tspan dy="-3.4" font-size="5.3">0</tspan></text>
<text transform="translate(25 503.7) scale(1 1.12)" font-size="7.5" text-anchor="end" fill="#151515" stroke="#151515" stroke-width="0.2">−10<tspan dy="-3.4" font-size="5.3">1</tspan></text>
<text transform="translate(12.3 460.1) rotate(-90) scale(1 1.1)" font-size="8.4" text-anchor="middle" fill="#151515" stroke="#151515" stroke-width="0.2">Best Score</text>
<path d="M161.6 505.9L161.6 504.7 M161.6 417.4L161.6 418.6 M179.76 505.9L179.76 504.7 M179.76 417.4L179.76 418.6 M197.92 505.9L197.92 504.7 M197.92 417.4L197.92 418.6 M216.08 505.9L216.08 504.7 M216.08 417.4L216.08 418.6 M234.24 505.9L234.24 504.7 M234.24 417.4L234.24 418.6 M252.4 505.9L252.4 504.7 M252.4 417.4L252.4 418.6 M161.6 426.8L162.8 426.8 M252.4 426.8L251.2 426.8 M161.6 502L162.8 502 M252.4 502L251.2 502" stroke="#959595" stroke-width="0.8" fill="none"/>
<rect x="161.6" y="417.4" width="90.8" height="88.5" stroke="#959595" stroke-width="1" fill="none"/>
<g clip-path="url(#c16)">
<polyline points="162,430 163,434 166,436 172,437.2 175,437.5 252.4,437.5" stroke="#ff00ff" stroke-width="1" fill="none"/>
<polyline points="163,448.4 163.9,456.9 167.2,458.9 175,459.5 252.4,459.7" stroke="#00ffff" stroke-width="1" fill="none"/>
<polyline points="162,417.4 162,423.5 162.5,424 165.9,425.5 177,425.5 177,428.8 178.3,428.8 178.3,432 185.5,432 185.5,440.9 199.9,440.9 202.5,443.2 204.5,445.1 207.6,445.5 211,448.8 215,449.4 252.4,449.4" stroke="#00ff00" stroke-width="1" fill="none"/>
<polyline points="162.5,424 163.2,424.2 169.1,424.8 173.7,426.1 175,428.1 181.6,428.4 184.8,429.1 187.5,429.4 187.9,438.6 200,439.2 206.8,439.5 206.8,444.6 212.7,444.6 212.7,445.5 217.8,445.5 220.3,452.2 222,455.6 229.6,455.6 229.6,457.3 231.3,458.2 242.3,458.2 242.3,459.3 252.4,459.8" stroke="#d95319" stroke-width="1" fill="none"/>
<polyline points="162,423.5 222.8,423.5 223.7,428.5 225.4,430.2 226.2,430.2 226.2,435.3 246.5,435.3 246.5,436.7 248.2,437 252.4,437" stroke="#262626" stroke-width="1" fill="none"/>
<polyline points="162.5,425 163.2,433.3 165.9,435.3 171.1,436.8 175,437.5 213.5,437.5 213.5,479.3 216.1,479.3 216.1,487.8 222,487.8 222,491.2 224.5,491.2 224.5,497.9 230.5,497.9 230.5,500.5 250.8,500.5 252.4,502.2" stroke="#ffff00" stroke-width="1" fill="none"/>
<polyline points="161.9,423.5 161.9,440.9 186.3,440.9 186.3,502.7 252.4,502.7" stroke="#0000ff" stroke-width="1" fill="none"/>
<polyline points="162.6,440 162.6,500 163.5,503.5 166,504.6 252.4,504.7" stroke="#ff0000" stroke-width="1.25" fill="none"/>
</g>
<text transform="translate(161.6 517) scale(1 1.12)" font-size="7.5" text-anchor="middle" fill="#151515" stroke="#151515" stroke-width="0.2">0</text>
<text transform="translate(179.76 517) scale(1 1.12)" font-size="7.5" text-anchor="middle" fill="#151515" stroke="#151515" stroke-width="0.2">100</text>
<text transform="translate(197.92 517) scale(1 1.12)" font-size="7.5" text-anchor="middle" fill="#151515" stroke="#151515" stroke-width="0.2">200</text>
<text transform="translate(216.08 517) scale(1 1.12)" font-size="7.5" text-anchor="middle" fill="#151515" stroke="#151515" stroke-width="0.2">300</text>
<text transform="translate(234.24 517) scale(1 1.12)" font-size="7.5" text-anchor="middle" fill="#151515" stroke="#151515" stroke-width="0.2">400</text>
<text transform="translate(252.4 517) scale(1 1.12)" font-size="7.5" text-anchor="middle" fill="#151515" stroke="#151515" stroke-width="0.2">500</text>
<text transform="translate(207 527) scale(1 1.1)" font-size="8.4" text-anchor="middle" fill="#151515" stroke="#151515" stroke-width="0.2">Iteration</text>
<text transform="translate(207 415.8) scale(1 1.1)" font-size="8.7" text-anchor="middle" fill="#000" stroke="#000" stroke-width="0.2">F23</text>
<text transform="translate(158 429.4) scale(1 1.12)" font-size="7.5" text-anchor="end" fill="#151515" stroke="#151515" stroke-width="0.2">−10<tspan dy="-3.4" font-size="5.3">0</tspan></text>
<text transform="translate(158 504.6) scale(1 1.12)" font-size="7.5" text-anchor="end" fill="#151515" stroke="#151515" stroke-width="0.2">−10<tspan dy="-3.4" font-size="5.3">1</tspan></text>
<text transform="translate(143.1 460.6) rotate(-90) scale(1 1.1)" font-size="8.4" text-anchor="middle" fill="#151515" stroke="#151515" stroke-width="0.2">Best Score</text>
<line x1="26" y1="543.5" x2="51.5" y2="543.5" stroke="#ff00ff" stroke-width="1"/>
<text transform="translate(53.8 545.1) scale(1 1.08)" font-size="6" text-anchor="start" fill="#000" stroke="#000" stroke-width="0.2">WOA</text>
<line x1="73.1" y1="543.5" x2="98.5" y2="543.5" stroke="#00ffff" stroke-width="1"/>
<text transform="translate(101.5 545.1) scale(1 1.08)" font-size="6" text-anchor="start" fill="#000" stroke="#000" stroke-width="0.2">HHO</text>
<line x1="118.4" y1="543.5" x2="144.3" y2="543.5" stroke="#00ff00" stroke-width="1"/>
<text transform="translate(146.9 545.1) scale(1 1.08)" font-size="6" text-anchor="start" fill="#000" stroke="#000" stroke-width="0.2">SSA</text>
<line x1="163.1" y1="543.5" x2="188.5" y2="543.5" stroke="#d95319" stroke-width="1"/>
<text transform="translate(191.5 545.1) scale(1 1.08)" font-size="6" text-anchor="start" fill="#000" stroke="#000" stroke-width="0.2">MVO</text>
<line x1="209.2" y1="543.5" x2="235.1" y2="543.5" stroke="#262626" stroke-width="1"/>
<text transform="translate(237.6 545.1) scale(1 1.08)" font-size="6" text-anchor="start" fill="#000" stroke="#000" stroke-width="0.2">STOA</text>
<line x1="258.1" y1="543.5" x2="283.5" y2="543.5" stroke="#ffff00" stroke-width="1"/>
<text transform="translate(286.5 545.1) scale(1 1.08)" font-size="6" text-anchor="start" fill="#000" stroke="#000" stroke-width="0.2">TSA</text>
<line x1="301.6" y1="543.5" x2="326.8" y2="543.5" stroke="#0000ff" stroke-width="1"/>
<text transform="translate(330.1 545.1) scale(1 1.08)" font-size="6" text-anchor="start" fill="#000" stroke="#000" stroke-width="0.2">AO</text>
<line x1="342.7" y1="543.5" x2="368" y2="543.5" stroke="#ff0000" stroke-width="1"/>
<text transform="translate(370.8 545.1) scale(1 1.08)" font-size="6" text-anchor="start" fill="#000" stroke="#000" stroke-width="0.2">IHSSAO</text></g></svg>
</body></html>
